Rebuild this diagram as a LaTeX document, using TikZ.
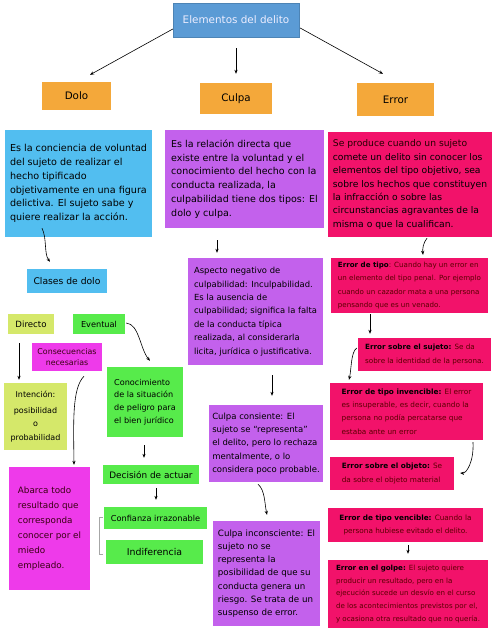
\documentclass[tikz,border=0pt]{standalone}
\usepackage{fontspec}
\setmainfont{DejaVu Sans}
\usetikzlibrary{calc,arrows.meta}
\definecolor{titleblue}{HTML}{5B9BD5}
\definecolor{orangebox}{HTML}{F4A83A}
\definecolor{lightblue}{HTML}{52BEF0}
\definecolor{purplebox}{HTML}{C361EC}
\definecolor{crimson}{HTML}{F2126A}
\definecolor{ygreen}{HTML}{D5E86A}
\definecolor{greenbox}{HTML}{57EB4B}
\definecolor{magentabox}{HTML}{EE3AEA}
\colorlet{errdark}{black}
\colorlet{errbody}{black!65!red}
\colorlet{errmain}{black!85!red}
\colorlet{magtext}{black!70!purple}
\newcommand\errbold[1]{\textbf{\textcolor{errdark}{#1}}}
\newcommand\fsz[2]{\fontsize{#1}{#2}\selectfont}
\begin{document}
\begin{tikzpicture}[x=1pt,y=-1pt,
  box/.style={rectangle, inner sep=0pt, align=left, anchor=center},
  arr/.style={-{Stealth[length=4pt,width=3.2pt]}, line width=0.6pt},
  bracketline/.style={draw=gray!70, line width=0.6pt}]
\useasboundingbox (0,0) rectangle (494,640);
\fill[white] (0,0) rectangle (494,640);

% top level
\node[box, fill=titleblue, draw=titleblue!85!black, line width=0.4pt, minimum width=126, minimum height=34, text=white!93!blue, font=\fsz{10.4}{12}] (title) at (236,20) {Elementos del delito};
\node[box, fill=orangebox, minimum width=69, minimum height=28, font=\fsz{10.3}{12}] (dolo) at (76.5,96) {Dolo};
\node[box, fill=orangebox, minimum width=72, minimum height=31, font=\fsz{10.3}{12}] (culpa) at (236,98.5) {Culpa};
\node[box, fill=orangebox, minimum width=77, minimum height=33, font=\fsz{10.3}{12}] (error) at (395.5,99.5) {Error};

% dolo column
\node[box, fill=lightblue, minimum width=147, minimum height=107, font=\fsz{9.6}{13.7}] (dolotext) at (78.5,183.5) {Es la conciencia de voluntad\\del sujeto de realizar el\\hecho tipificado\\objetivamente en una figura\\delictiva. El sujeto sabe y\\quiere realizar la acción.};
\node[box, fill=lightblue, minimum width=80, minimum height=24, font=\fsz{9.2}{11}] (clases) at (67,281) {Clases de dolo};
\node[box, fill=ygreen, minimum width=46, minimum height=20, font=\fsz{8.6}{10}] (directo) at (31,324) {Directo};
\node[box, fill=greenbox, minimum width=52, minimum height=20, font=\fsz{8.2}{10}] (eventual) at (99,324) {Eventual};
\node[box, fill=magentabox, minimum width=70, minimum height=28, align=center, text=magtext, font=\fsz{7.9}{11}] (consec) at (67,357) {Consecuencias\\necesarias};
\node[box, fill=ygreen, minimum width=63, minimum height=67, align=center, font=\fsz{8}{13.5}] (intencion) at (35.5,416.5) {Intención:\\[2pt]posibilidad\\o\\probabilidad};
\node[box, fill=greenbox, minimum width=76, minimum height=70, font=\fsz{8.1}{12.6}] (conoc) at (145,402) {Conocimiento\\de la situación\\de peligro para\\el bien jurídico};
\node[box, fill=magentabox, minimum width=81, minimum height=123, text=magtext, font=\fsz{8.8}{15}] (abarca) at (49.5,528.5) {Abarca todo\\resultado que\\corresponda\\conocer por el\\miedo\\empleado.};
\node[box, fill=greenbox, minimum width=96, minimum height=19, font=\fsz{8.9}{11}] (decision) at (151,474.5) {Decisión de actuar};
\node[box, fill=greenbox, minimum width=103, minimum height=22, font=\fsz{8.2}{10}] (confianza) at (155.5,518) {Confianza irrazonable};
\node[box, fill=greenbox, minimum width=97, minimum height=24, font=\fsz{9.4}{11}] (indif) at (154.5,552) {Indiferencia};

% culpa column
\node[box, fill=purplebox, minimum width=159, minimum height=98, font=\fsz{9.5}{13.7}] (culpatext) at (244.5,179) {Es la relación directa que\\existe entre la voluntad y el\\conocimiento del hecho con la\\conducta realizada, la\\culpabilidad tiene dos tipos: El\\dolo y culpa.};
\node[box, fill=purplebox, minimum width=135, minimum height=107, font=\fsz{8.4}{13.4}] (aspecto) at (255.5,311.5) {Aspecto negativo de\\culpabilidad: Inculpabilidad.\\Es la ausencia de\\culpabilidad; significa la falta\\de la conducta típica\\realizada, al considerarla\\licita, jurídica o justificativa.};
\node[box, fill=purplebox, minimum width=114, minimum height=77, font=\fsz{8.5}{13.4}] (consiente) at (266,443.5) {Culpa consiente: El\\sujeto se ``representa''\\el delito, pero lo rechaza\\mentalmente, o lo\\considera poco probable.};
\node[box, fill=purplebox, minimum width=107, minimum height=105, font=\fsz{8.7}{13.1}] (inconsc) at (266.5,573.5) {Culpa inconsciente: El\\sujeto no se\\representa la\\posibilidad de que su\\conducta genera un\\riesgo. Se trata de un\\suspenso de error.};

% error column
\node[box, fill=crimson, minimum width=164, minimum height=105, font=\fsz{9.2}{13.4}] (errortext) at (410,184.5) {\color{errmain}Se produce cuando un sujeto\\comete un delito sin conocer los\\elementos del tipo objetivo, sea\\sobre los hechos que constituyen\\la infracción o sobre las\\circunstancias agravantes de la\\misma o que la cualifican.};
\node[box, fill=crimson, minimum width=157, minimum height=55, text=errbody, font=\fsz{7.1}{13.2}] (errortipo) at (409.5,285.5) {\errbold{Error de tipo}: Cuando hay un error en\\un elemento del tipo penal. Por ejemplo\\cuando un cazador mata a una persona\\pensando que es un venado.};
\node[box, fill=crimson, minimum width=133, minimum height=33, text=errbody, font=\fsz{7.2}{13.2}] (sujeto) at (424.5,354.5) {\errbold{Error sobre el sujeto:} Se da\\sobre la identidad de la persona.};
\node[box, fill=crimson, minimum width=153, minimum height=57, text=errbody, font=\fsz{7.3}{13.3}] (invencible) at (406.5,411.5) {\errbold{Error de tipo invencible:} El error\\es insuperable, es decir, cuando la\\persona no podía percatarse que\\estaba ante un error};
\node[box, fill=crimson, minimum width=124, minimum height=33, text=errbody, font=\fsz{7.3}{13.3}] (objeto) at (392,473.5) {\errbold{Error sobre el objeto:} Se\\da sobre el objeto material};
\node[box, fill=crimson, minimum width=155, minimum height=34, align=center, text=errbody, font=\fsz{7.3}{13.3}] (vencible) at (405.5,525) {\errbold{Error de tipo vencible:} Cuando la\\persona hubiese evitado el delito.};
\node[box, fill=crimson, minimum width=160, minimum height=68, text=errbody, font=\fsz{7.1}{12.6}] (golpe) at (408,594) {\errbold{Error en el golpe:} El sujeto quiere\\producir un resultado, pero en la\\ejecución sucede un desvío en el curso\\de los acontecimientos previstos por el,\\y ocasiona otra resultado que no quería.};

% connectors
\draw[arr] ($(title.west)+(0,9)$) -- ($(dolo.north)+(13.5,-7)$);
\draw[arr] ($(title.south)+(0,11)$) -- ($(culpa.north)+(0,-9)$);
\draw[arr] ($(title.east)+(1,8)$) -- ($(error.north)+(-12.5,-9)$);

\draw[arr] ($(dolotext.south)+(-36.5,-9)$) coordinate (a1) .. controls ($(a1)+(5,10)$) and ($(clases.north)+(-23,-15)$) .. ($(clases.north)+(-17,-7)$);
\draw[arr] ($(culpatext.south)+(-27.5,12)$) -- ($(aspecto.north)+(-38.5,-5)$);
\draw[arr] ($(aspecto.south)+(16.5,10)$) -- ($(consiente.north)+(6,-9)$);
\draw[arr] ($(consiente.south)+(-8,2)$) coordinate (a2) .. controls ($(a2)+(7,6)$) and ($(inconsc.north)+(-2,-18)$) .. ($(inconsc.north)+(0.5,-6)$);

\draw[arr] ($(errortext.south)+(17,1)$) coordinate (a3) .. controls ($(a3)+(-4,5)$) and ($(errortipo.north)+(13,-9)$) .. ($(errortipo.north)+(13.5,-3)$);
\draw[arr] ($(errortipo.south)+(-39.5,1)$) -- ($(sujeto.north)+(-54.5,-4)$);
\draw[arr] ($(sujeto.west)+(-1,-6.5)$) coordinate (a4) .. controls ($(a4)+(-6,4)$) and ($(invencible.north)+(-55,-14)$) .. ($(invencible.north)+(-57.5,-3)$);
\draw[arr] ($(invencible.south)+(66.5,2)$) coordinate (a5) .. controls ($(a5)+(1,20)$) and ($(objeto.east)+(12,0)$) .. ($(objeto.east)+(6,-0.5)$);
\draw[arr] ($(vencible.south)+(2.5,3)$) -- ($(golpe.north)+(0,-6)$);

\draw[arr] ($(directo.south)+(-12,9)$) -- ($(intencion.north)+(-16.5,-3)$);
\draw[arr] ($(eventual.east)+(1,-1)$) coordinate (a6) .. controls ($(a6)+(13,1)$) and ($(conoc.north)+(-5,-18)$) .. ($(conoc.north)+(5,-6)$);
\draw[arr] ($(consec.south)+(17,5)$) coordinate (a7) .. controls ($(a7)+(-12,12)$) and ($(abarca.north)+(24,-45)$) .. ($(abarca.north)+(24.5,-2)$);
\draw[arr] ($(conoc.south)+(-1,8)$) -- ($(decision.north)+(-7,-7)$);
\draw[arr] ($(decision.south)+(5,4)$) -- ($(confianza.north)+(0.5,-7)$);

\draw[bracketline] ($(confianza.west)+(-1,-1)$) -- ++(-4,0) |- ($(indif.west)+(-3,2)$);
\end{tikzpicture}
\end{document}
